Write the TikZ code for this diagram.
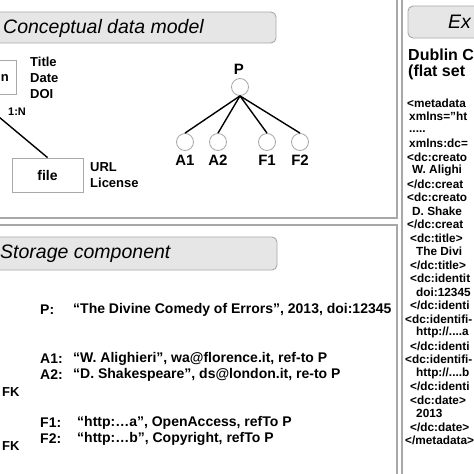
\documentclass[tikz,border=0pt]{standalone}
\usepackage{fontspec}
\setmainfont{Liberation Sans}
\usetikzlibrary{positioning}
\definecolor{framegray}{HTML}{A8A8A8}
\definecolor{bargray}{HTML}{E6E6E6}
\newcommand{\fsz}[1]{\fontsize{#1}{#1}\selectfont}
\newcommand{\leaf}[4]{\node[leafdot] (#1) at ( #2 , #3 ) {}; \node[leaflab] (#1lab) at ( #2 , #3 + 18 ) {#4};}
\newcommand{\codeline}[4]{\node[codetext] (#1) at ( #2 , #3 ) {#4};}

\begin{document}
\begin{tikzpicture}[x=1pt, y=-1pt,
    panel/.style={draw=framegray, line width=1.3pt},
    titlebar/.style={draw=framegray, fill=bargray, rounded corners=5pt, line width=0.9pt},
    bartext/.style={anchor=west, inner sep=0pt, font=\fsz{19.5}\itshape},
    entity/.style={draw=framegray, line width=0.9pt, minimum width=71pt, minimum height=34pt, inner sep=0pt, font=\fsz{14}\bfseries},
    attr/.style={anchor=west, inner sep=0pt, font=\fsz{13}\bfseries},
    leafdot/.style={circle, draw=framegray, fill=white, line width=0.8pt, minimum size=17pt, inner sep=0pt},
    leaflab/.style={inner sep=0pt, font=\fsz{15}\bfseries},
    link/.style={black, line width=1.4pt},
    rowtext/.style={anchor=west, inner sep=0pt, font=\fsz{14}\bfseries},
    codetext/.style={anchor=west, inner sep=0pt, font=\fsz{11.8}\bfseries}]

    \useasboundingbox (0,0) rectangle (474,474);

    % panels
    \draw[panel] (-5,-5) rectangle (397,218);
    \draw[panel] (-5,225) rectangle (397,480);
    \draw[panel] (402,-5) rectangle (480,480);

    % conceptual data model
    \draw[titlebar] (-10,12) rectangle (276,43);
    \node[bartext] (cdmtitle) at (3,28) {Conceptual data model};

    \node[entity, minimum width=88pt, anchor=north east] (pub) at (17,60) {};
    \node[attr, anchor=east] (pubtxt) at (9,78) {n};
    \node[attr] (atitle) at (30,62) {Title};
    \node[attr] (adate) at (30,78) {Date};
    \node[attr] (adoi) at (30,94) {DOI};

    \node[entity] (file) at (47.5,175) {file};
    \node[attr] (aurl) at (90,167) {URL};
    \node[attr] (alic) at (90,183) {License};

    \draw[link] (pub.south) -- (file.north);
    \node[attr, font=\fsz{11}\bfseries] (card) at (8,112) {1:N};

    \node[leafdot] (P) at (240,87) {};
    \node[leaflab] (Plab) at (239,69) {P};
    \leaf{A1}{185}{142}{A1}
    \leaf{A2}{218}{142}{A2}
    \leaf{F1}{267}{142}{F1}
    \leaf{F2}{300}{142}{F2}
    \draw[link] (P.south) -- (A1.north);
    \draw[link] (P.south) -- (A2.north);
    \draw[link] (P.south) -- (F1.north);
    \draw[link] (P.south) -- (F2.north);

    % storage component
    \draw[titlebar] (-10,237) rectangle (277,270);
    \node[bartext] (sctitle) at (0,254) {Storage component};

    \node[rowtext] (rowP) at (40,310) {P:};
    \node[rowtext] (rowPval) at (73,310) {“The Divine Comedy of Errors”, 2013, doi:12345};
    \node[rowtext] (rowA1) at (40,359) {A1:};
    \node[rowtext] (rowA1val) at (73,359) {“W. Alighieri”, wa@florence.it, ref-to P};
    \node[rowtext] (rowA2) at (40,375) {A2:};
    \node[rowtext] (rowA2val) at (73,375) {“D. Shakespeare”, ds@london.it, re-to P};
    \node[rowtext, font=\fsz{13}\bfseries] (fkA) at (2,392) {FK};
    \node[rowtext] (rowF1) at (40,423) {F1:};
    \node[rowtext] (rowF1val) at (77,423) {“http:…a”, OpenAccess, refTo P};
    \node[rowtext] (rowF2) at (40,439) {F2:};
    \node[rowtext] (rowF2val) at (77,439) {“http:…b”, Copyright, refTo P};
    \node[rowtext, font=\fsz{13}\bfseries] (fkF) at (2,446) {FK};

    % example
    \draw[titlebar] (408,6) rectangle (490,38);
    \node[bartext] (extitle) at (448,22) {Ex};
    \node[attr, font=\fsz{16}\bfseries] (dc1) at (408,55) {Dublin C};
    \node[attr, font=\fsz{16}\bfseries] (dc2) at (408,72) {(flat set};

    \codeline{c1}{407}{103}{<metadata}
    \codeline{c2}{409}{116.5}{xmlns="ht}
    \codeline{c3}{409}{132}{.....}
    \codeline{c4}{409}{143.5}{xmlns:dc=}
    \codeline{c5}{407}{157}{<dc:creato}
    \codeline{c6}{412}{170.5}{W. Alighi}
    \codeline{c7}{407}{184}{</dc:creat}
    \codeline{c8}{407}{197.5}{<dc:creato}
    \codeline{c9}{412}{211}{D. Shake}
    \codeline{c10}{407}{224.5}{</dc:creat}
    \codeline{c11}{410}{238}{<dc:title>}
    \codeline{c12}{416}{251.5}{The Divi}
    \codeline{c13}{410}{265}{</dc:title>}
    \codeline{c14}{410}{278.5}{<dc:identit}
    \codeline{c15}{416}{292}{doi:12345}
    \codeline{c16}{410}{305.5}{</dc:identi}
    \codeline{c17}{405}{319}{<dc:identifi-}
    \codeline{c18}{416}{332.5}{http://....a}
    \codeline{c19}{410}{346}{</dc:identi}
    \codeline{c20}{405}{359.5}{<dc:identifi-}
    \codeline{c21}{416}{373}{http://....b}
    \codeline{c22}{410}{386.5}{</dc:identi}
    \codeline{c23}{410}{400}{<dc:date>}
    \codeline{c24}{416}{413.5}{2013}
    \codeline{c25}{410}{427}{</dc:date>}
    \codeline{c26}{405}{440.5}{</metadata>}

\end{tikzpicture}
\end{document}
